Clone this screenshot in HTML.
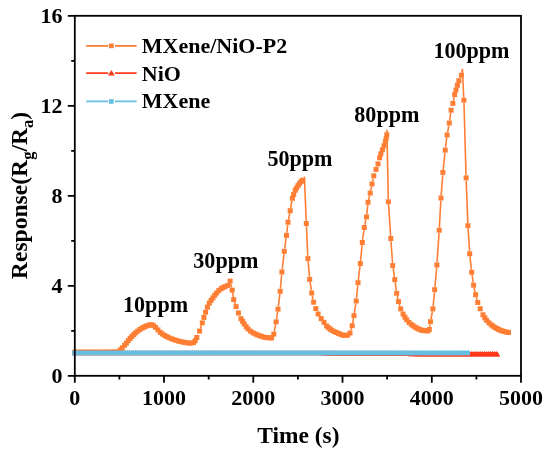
<!DOCTYPE html>
<html><head><meta charset="utf-8"><title>Response</title>
<style>html,body{margin:0;padding:0;background:#fff}svg{display:block}text{font-family:"Liberation Serif","Times New Roman",serif;font-weight:bold;fill:#000}</style></head><body>
<svg width="550" height="454" viewBox="0 0 550 454">
<rect width="550" height="454" fill="#fff"/>
<path d="M200.6 328.0 L201.3 326.0M230.8 284.3 L231.5 287.0M232.7 293.5 L233.2 296.3M234.8 302.7 L235.0 303.5M274.4 330.9 L275.5 325.1M276.6 318.6 L277.5 312.5M278.4 305.9 L279.8 294.6M280.5 288.0 L281.6 275.3M282.3 268.7 L283.9 254.6M284.8 248.0 L286.0 238.7M286.9 232.1 L287.6 225.5M288.6 219.0 L289.6 213.9M290.8 207.5 L291.8 201.5M304.4 177.3 L306.2 220.2M306.5 226.8 L307.7 255.3M308.2 261.9 L309.4 276.0M310.2 282.6 L311.2 289.7M312.4 296.2 L312.9 299.0M351.0 329.8 L351.2 328.9M352.8 322.5 L353.4 318.8M354.5 312.3 L355.7 304.3M356.5 297.7 L357.7 286.0M358.4 279.4 L359.9 266.8M360.6 260.2 L362.0 245.8M362.7 239.2 L363.9 230.8M365.0 224.3 L365.8 220.1M366.8 213.6 L367.7 205.6M368.8 199.1 L369.4 196.3M370.8 189.9 L371.4 187.2M372.7 180.8 L373.1 179.0M386.8 131.5 L386.9 130.4M386.9 130.4 L388.3 198.5M388.6 205.1 L390.6 235.2M391.0 241.8 L392.5 262.3M393.2 268.9 L394.3 276.3M395.3 282.9 L396.2 290.0M397.4 296.5 L397.8 298.4M399.5 304.8 L399.7 305.7M429.8 326.2 L430.0 325.0M431.1 318.5 L432.3 312.1M433.2 305.6 L434.4 293.0M435.0 286.4 L436.6 268.3M437.1 261.7 L439.0 233.5M439.4 226.9 L440.8 201.3M441.2 194.7 L442.7 175.7M443.2 169.1 L444.9 153.4M445.6 146.8 L446.7 138.3M447.7 131.8 L448.7 126.2M449.8 119.7 L450.6 113.5M453.6 100.2 L454.0 97.8M461.9 72.0 L462.4 69.2M462.4 69.2 L463.7 96.9M464.0 103.5 L466.0 174.6M466.2 181.2 L467.8 222.4M468.1 229.0 L469.5 250.5M470.1 257.1 L471.3 269.0M472.2 275.6 L473.1 281.9M474.3 288.4 L474.9 291.5M476.5 297.9 L476.9 299.3" fill="none" stroke="#FF7E34" stroke-width="1.6" stroke-linejoin="round" stroke-linecap="round"/>
<g fill="#FF7E34">
<rect x="72.0" y="349.7" width="5.0" height="5.0"/>
<rect x="74.0" y="349.7" width="5.0" height="5.0"/>
<rect x="76.1" y="349.7" width="5.0" height="5.0"/>
<rect x="78.2" y="349.7" width="5.0" height="5.0"/>
<rect x="80.2" y="349.7" width="5.0" height="5.0"/>
<rect x="82.2" y="349.7" width="5.0" height="5.0"/>
<rect x="84.3" y="349.7" width="5.0" height="5.0"/>
<rect x="86.3" y="349.7" width="5.0" height="5.0"/>
<rect x="88.4" y="349.7" width="5.0" height="5.0"/>
<rect x="90.5" y="349.7" width="5.0" height="5.0"/>
<rect x="92.5" y="349.7" width="5.0" height="5.0"/>
<rect x="94.7" y="349.7" width="5.0" height="5.0"/>
<rect x="96.9" y="349.7" width="5.0" height="5.0"/>
<rect x="99.1" y="349.7" width="5.0" height="5.0"/>
<rect x="101.3" y="349.7" width="5.0" height="5.0"/>
<rect x="103.5" y="349.7" width="5.0" height="5.0"/>
<rect x="105.7" y="349.6" width="5.0" height="5.0"/>
<rect x="107.9" y="349.6" width="5.0" height="5.0"/>
<rect x="110.1" y="349.6" width="5.0" height="5.0"/>
<rect x="112.3" y="349.5" width="5.0" height="5.0"/>
<rect x="114.5" y="349.5" width="5.0" height="5.0"/>
<rect x="117.6" y="347.4" width="5.0" height="5.0"/>
<rect x="119.8" y="345.3" width="5.0" height="5.0"/>
<rect x="122.1" y="342.8" width="5.0" height="5.0"/>
<rect x="123.9" y="340.6" width="5.0" height="5.0"/>
<rect x="125.8" y="338.1" width="5.0" height="5.0"/>
<rect x="127.6" y="335.9" width="5.0" height="5.0"/>
<rect x="129.4" y="333.9" width="5.0" height="5.0"/>
<rect x="131.3" y="332.0" width="5.0" height="5.0"/>
<rect x="133.1" y="330.3" width="5.0" height="5.0"/>
<rect x="135.2" y="328.6" width="5.0" height="5.0"/>
<rect x="137.4" y="327.0" width="5.0" height="5.0"/>
<rect x="139.5" y="325.7" width="5.0" height="5.0"/>
<rect x="141.3" y="324.7" width="5.0" height="5.0"/>
<rect x="143.2" y="323.8" width="5.0" height="5.0"/>
<rect x="145.0" y="323.1" width="5.0" height="5.0"/>
<rect x="147.0" y="322.5" width="5.0" height="5.0"/>
<rect x="149.0" y="322.2" width="5.0" height="5.0"/>
<rect x="151.1" y="323.2" width="5.0" height="5.0"/>
<rect x="153.2" y="325.0" width="5.0" height="5.0"/>
<rect x="155.5" y="327.4" width="5.0" height="5.0"/>
<rect x="157.8" y="329.9" width="5.0" height="5.0"/>
<rect x="159.9" y="331.5" width="5.0" height="5.0"/>
<rect x="162.1" y="332.9" width="5.0" height="5.0"/>
<rect x="164.2" y="334.1" width="5.0" height="5.0"/>
<rect x="166.6" y="335.3" width="5.0" height="5.0"/>
<rect x="169.1" y="336.3" width="5.0" height="5.0"/>
<rect x="171.5" y="337.2" width="5.0" height="5.0"/>
<rect x="173.8" y="337.9" width="5.0" height="5.0"/>
<rect x="176.1" y="338.6" width="5.0" height="5.0"/>
<rect x="178.3" y="339.1" width="5.0" height="5.0"/>
<rect x="180.6" y="339.6" width="5.0" height="5.0"/>
<rect x="183.0" y="340.1" width="5.0" height="5.0"/>
<rect x="185.5" y="340.5" width="5.0" height="5.0"/>
<rect x="187.9" y="340.7" width="5.0" height="5.0"/>
<rect x="191.0" y="340.1" width="5.0" height="5.0"/>
<rect x="192.7" y="338.2" width="5.0" height="5.0"/>
<rect x="194.3" y="335.0" width="5.0" height="5.0"/>
<rect x="197.1" y="328.6" width="5.0" height="5.0"/>
<rect x="199.8" y="320.4" width="5.0" height="5.0"/>
<rect x="201.4" y="314.9" width="5.0" height="5.0"/>
<rect x="203.1" y="309.7" width="5.0" height="5.0"/>
<rect x="204.9" y="304.7" width="5.0" height="5.0"/>
<rect x="206.8" y="300.6" width="5.0" height="5.0"/>
<rect x="208.6" y="297.8" width="5.0" height="5.0"/>
<rect x="210.4" y="295.4" width="5.0" height="5.0"/>
<rect x="212.2" y="292.8" width="5.0" height="5.0"/>
<rect x="214.1" y="290.5" width="5.0" height="5.0"/>
<rect x="216.3" y="288.1" width="5.0" height="5.0"/>
<rect x="218.6" y="286.2" width="5.0" height="5.0"/>
<rect x="220.6" y="285.0" width="5.0" height="5.0"/>
<rect x="222.5" y="284.1" width="5.0" height="5.0"/>
<rect x="225.1" y="283.0" width="5.0" height="5.0"/>
<rect x="227.6" y="278.6" width="5.0" height="5.0"/>
<rect x="229.7" y="287.7" width="5.0" height="5.0"/>
<rect x="231.2" y="297.1" width="5.0" height="5.0"/>
<rect x="233.6" y="304.1" width="5.0" height="5.0"/>
<rect x="235.9" y="310.5" width="5.0" height="5.0"/>
<rect x="238.5" y="316.2" width="5.0" height="5.0"/>
<rect x="240.1" y="318.9" width="5.0" height="5.0"/>
<rect x="241.7" y="321.3" width="5.0" height="5.0"/>
<rect x="243.6" y="324.1" width="5.0" height="5.0"/>
<rect x="245.5" y="326.5" width="5.0" height="5.0"/>
<rect x="248.1" y="328.7" width="5.0" height="5.0"/>
<rect x="250.6" y="330.3" width="5.0" height="5.0"/>
<rect x="252.7" y="331.4" width="5.0" height="5.0"/>
<rect x="254.9" y="332.4" width="5.0" height="5.0"/>
<rect x="257.0" y="333.2" width="5.0" height="5.0"/>
<rect x="259.1" y="333.9" width="5.0" height="5.0"/>
<rect x="261.3" y="334.6" width="5.0" height="5.0"/>
<rect x="263.4" y="335.0" width="5.0" height="5.0"/>
<rect x="265.3" y="335.2" width="5.0" height="5.0"/>
<rect x="267.2" y="335.3" width="5.0" height="5.0"/>
<rect x="269.1" y="335.4" width="5.0" height="5.0"/>
<rect x="271.3" y="331.6" width="5.0" height="5.0"/>
<rect x="273.6" y="319.4" width="5.0" height="5.0"/>
<rect x="275.5" y="306.7" width="5.0" height="5.0"/>
<rect x="277.7" y="288.8" width="5.0" height="5.0"/>
<rect x="279.4" y="269.5" width="5.0" height="5.0"/>
<rect x="281.8" y="248.8" width="5.0" height="5.0"/>
<rect x="284.0" y="232.9" width="5.0" height="5.0"/>
<rect x="285.5" y="219.7" width="5.0" height="5.0"/>
<rect x="287.7" y="208.2" width="5.0" height="5.0"/>
<rect x="289.9" y="195.8" width="5.0" height="5.0"/>
<rect x="291.2" y="191.9" width="5.0" height="5.0"/>
<rect x="292.7" y="187.8" width="5.0" height="5.0"/>
<rect x="294.0" y="185.5" width="5.0" height="5.0"/>
<rect x="295.5" y="183.1" width="5.0" height="5.0"/>
<rect x="297.1" y="180.8" width="5.0" height="5.0"/>
<rect x="298.7" y="178.9" width="5.0" height="5.0"/>
<rect x="300.2" y="177.7" width="5.0" height="5.0"/>
<rect x="303.8" y="221.0" width="5.0" height="5.0"/>
<rect x="305.4" y="256.1" width="5.0" height="5.0"/>
<rect x="307.2" y="276.8" width="5.0" height="5.0"/>
<rect x="309.2" y="290.5" width="5.0" height="5.0"/>
<rect x="311.1" y="299.7" width="5.0" height="5.0"/>
<rect x="313.3" y="306.1" width="5.0" height="5.0"/>
<rect x="315.6" y="311.5" width="5.0" height="5.0"/>
<rect x="318.7" y="316.1" width="5.0" height="5.0"/>
<rect x="321.5" y="319.8" width="5.0" height="5.0"/>
<rect x="324.1" y="323.5" width="5.0" height="5.0"/>
<rect x="325.9" y="325.2" width="5.0" height="5.0"/>
<rect x="327.7" y="326.6" width="5.0" height="5.0"/>
<rect x="329.5" y="327.8" width="5.0" height="5.0"/>
<rect x="331.6" y="329.0" width="5.0" height="5.0"/>
<rect x="333.8" y="330.0" width="5.0" height="5.0"/>
<rect x="335.9" y="330.9" width="5.0" height="5.0"/>
<rect x="338.0" y="331.8" width="5.0" height="5.0"/>
<rect x="340.2" y="332.6" width="5.0" height="5.0"/>
<rect x="342.3" y="332.9" width="5.0" height="5.0"/>
<rect x="345.1" y="332.7" width="5.0" height="5.0"/>
<rect x="347.5" y="330.5" width="5.0" height="5.0"/>
<rect x="349.7" y="323.2" width="5.0" height="5.0"/>
<rect x="351.5" y="313.1" width="5.0" height="5.0"/>
<rect x="353.7" y="298.5" width="5.0" height="5.0"/>
<rect x="355.5" y="280.2" width="5.0" height="5.0"/>
<rect x="357.8" y="261.0" width="5.0" height="5.0"/>
<rect x="359.8" y="240.0" width="5.0" height="5.0"/>
<rect x="361.8" y="225.0" width="5.0" height="5.0"/>
<rect x="364.0" y="214.4" width="5.0" height="5.0"/>
<rect x="365.5" y="199.8" width="5.0" height="5.0"/>
<rect x="367.7" y="190.6" width="5.0" height="5.0"/>
<rect x="369.5" y="181.5" width="5.0" height="5.0"/>
<rect x="371.3" y="173.3" width="5.0" height="5.0"/>
<rect x="373.5" y="166.9" width="5.0" height="5.0"/>
<rect x="375.5" y="161.4" width="5.0" height="5.0"/>
<rect x="377.1" y="155.3" width="5.0" height="5.0"/>
<rect x="378.4" y="151.3" width="5.0" height="5.0"/>
<rect x="379.9" y="147.3" width="5.0" height="5.0"/>
<rect x="381.5" y="143.3" width="5.0" height="5.0"/>
<rect x="382.9" y="139.1" width="5.0" height="5.0"/>
<rect x="383.7" y="135.9" width="5.0" height="5.0"/>
<rect x="384.3" y="132.3" width="5.0" height="5.0"/>
<rect x="385.9" y="199.3" width="5.0" height="5.0"/>
<rect x="388.3" y="236.0" width="5.0" height="5.0"/>
<rect x="390.2" y="263.1" width="5.0" height="5.0"/>
<rect x="392.3" y="277.1" width="5.0" height="5.0"/>
<rect x="394.2" y="290.8" width="5.0" height="5.0"/>
<rect x="396.0" y="299.1" width="5.0" height="5.0"/>
<rect x="398.2" y="306.4" width="5.0" height="5.0"/>
<rect x="400.6" y="311.5" width="5.0" height="5.0"/>
<rect x="402.4" y="314.7" width="5.0" height="5.0"/>
<rect x="404.2" y="317.3" width="5.0" height="5.0"/>
<rect x="406.5" y="319.9" width="5.0" height="5.0"/>
<rect x="408.8" y="321.9" width="5.0" height="5.0"/>
<rect x="410.6" y="323.3" width="5.0" height="5.0"/>
<rect x="412.5" y="324.6" width="5.0" height="5.0"/>
<rect x="414.3" y="325.6" width="5.0" height="5.0"/>
<rect x="416.1" y="326.5" width="5.0" height="5.0"/>
<rect x="418.0" y="327.3" width="5.0" height="5.0"/>
<rect x="419.8" y="327.8" width="5.0" height="5.0"/>
<rect x="421.6" y="328.1" width="5.0" height="5.0"/>
<rect x="423.5" y="328.3" width="5.0" height="5.0"/>
<rect x="425.3" y="328.4" width="5.0" height="5.0"/>
<rect x="426.8" y="327.0" width="5.0" height="5.0"/>
<rect x="428.0" y="319.2" width="5.0" height="5.0"/>
<rect x="430.4" y="306.4" width="5.0" height="5.0"/>
<rect x="432.2" y="287.2" width="5.0" height="5.0"/>
<rect x="434.4" y="262.5" width="5.0" height="5.0"/>
<rect x="436.7" y="227.7" width="5.0" height="5.0"/>
<rect x="438.5" y="195.5" width="5.0" height="5.0"/>
<rect x="440.4" y="169.9" width="5.0" height="5.0"/>
<rect x="442.7" y="147.6" width="5.0" height="5.0"/>
<rect x="444.6" y="132.5" width="5.0" height="5.0"/>
<rect x="446.8" y="120.5" width="5.0" height="5.0"/>
<rect x="448.6" y="107.7" width="5.0" height="5.0"/>
<rect x="450.4" y="100.9" width="5.0" height="5.0"/>
<rect x="452.2" y="92.1" width="5.0" height="5.0"/>
<rect x="453.5" y="87.5" width="5.0" height="5.0"/>
<rect x="454.9" y="82.8" width="5.0" height="5.0"/>
<rect x="456.4" y="78.2" width="5.0" height="5.0"/>
<rect x="458.9" y="72.8" width="5.0" height="5.0"/>
<rect x="461.4" y="97.7" width="5.0" height="5.0"/>
<rect x="463.6" y="175.4" width="5.0" height="5.0"/>
<rect x="465.4" y="223.2" width="5.0" height="5.0"/>
<rect x="467.2" y="251.3" width="5.0" height="5.0"/>
<rect x="469.2" y="269.8" width="5.0" height="5.0"/>
<rect x="471.1" y="282.7" width="5.0" height="5.0"/>
<rect x="473.1" y="292.2" width="5.0" height="5.0"/>
<rect x="475.3" y="300.0" width="5.0" height="5.0"/>
<rect x="477.7" y="306.3" width="5.0" height="5.0"/>
<rect x="480.5" y="312.3" width="5.0" height="5.0"/>
<rect x="482.3" y="315.3" width="5.0" height="5.0"/>
<rect x="484.1" y="317.8" width="5.0" height="5.0"/>
<rect x="486.4" y="320.3" width="5.0" height="5.0"/>
<rect x="488.7" y="322.3" width="5.0" height="5.0"/>
<rect x="490.5" y="323.7" width="5.0" height="5.0"/>
<rect x="492.4" y="324.9" width="5.0" height="5.0"/>
<rect x="494.2" y="326.0" width="5.0" height="5.0"/>
<rect x="496.0" y="326.9" width="5.0" height="5.0"/>
<rect x="497.9" y="327.7" width="5.0" height="5.0"/>
<rect x="499.7" y="328.4" width="5.0" height="5.0"/>
<rect x="501.8" y="329.0" width="5.0" height="5.0"/>
<rect x="503.9" y="329.6" width="5.0" height="5.0"/>
<rect x="506.0" y="330.0" width="5.0" height="5.0"/>
</g>
<g fill="#FF3A1C">
<path d="M71.9 355.2 L74.8 349.9 L77.7 355.2 ZM74.0 355.2 L76.9 349.9 L79.8 355.2 ZM76.1 355.2 L79.0 349.9 L81.9 355.2 ZM78.2 355.2 L81.1 349.9 L84.0 355.2 ZM80.3 355.2 L83.2 349.9 L86.1 355.2 ZM82.4 355.2 L85.3 349.9 L88.2 355.2 ZM84.5 355.2 L87.4 349.9 L90.3 355.2 ZM86.6 355.2 L89.5 349.9 L92.4 355.2 ZM88.7 355.2 L91.6 349.9 L94.5 355.2 ZM90.8 355.2 L93.7 349.9 L96.6 355.2 ZM92.9 355.2 L95.8 349.9 L98.7 355.2 ZM95.0 355.2 L97.9 349.9 L100.8 355.2 ZM97.1 355.2 L100.0 349.9 L102.9 355.2 ZM99.2 355.2 L102.1 349.9 L105.0 355.2 ZM101.3 355.2 L104.2 349.9 L107.1 355.2 ZM103.4 355.2 L106.3 349.9 L109.2 355.2 ZM105.5 355.2 L108.4 349.9 L111.3 355.2 ZM107.6 355.2 L110.5 349.9 L113.4 355.2 ZM109.7 355.2 L112.6 349.9 L115.5 355.2 ZM111.8 355.2 L114.7 349.9 L117.6 355.2 ZM113.9 355.2 L116.8 349.9 L119.7 355.2 ZM116.0 355.2 L118.9 349.9 L121.8 355.2 ZM118.1 355.2 L121.0 349.9 L123.9 355.2 ZM120.2 355.2 L123.1 349.9 L126.0 355.2 ZM122.3 355.2 L125.2 349.9 L128.1 355.2 ZM124.4 355.2 L127.3 349.9 L130.2 355.2 ZM126.5 355.2 L129.4 349.9 L132.3 355.2 ZM128.6 355.2 L131.5 349.9 L134.4 355.2 ZM130.7 355.2 L133.6 349.9 L136.5 355.2 ZM132.8 355.2 L135.7 349.9 L138.6 355.2 ZM134.9 355.2 L137.8 349.9 L140.7 355.2 ZM137.0 355.2 L139.9 349.9 L142.8 355.2 ZM139.1 355.2 L142.0 349.9 L144.9 355.2 ZM141.2 355.2 L144.1 349.9 L147.0 355.2 ZM143.3 355.2 L146.2 349.9 L149.1 355.2 ZM145.4 355.2 L148.3 349.9 L151.2 355.2 ZM147.5 355.2 L150.4 349.9 L153.3 355.2 ZM149.6 355.2 L152.5 349.9 L155.4 355.2 ZM151.7 355.2 L154.6 349.9 L157.5 355.2 ZM153.8 355.2 L156.7 349.9 L159.6 355.2 ZM155.9 355.2 L158.8 349.9 L161.7 355.2 ZM158.0 355.2 L160.9 349.9 L163.8 355.2 ZM160.1 355.2 L163.0 349.9 L165.9 355.2 ZM162.2 355.2 L165.1 349.9 L168.0 355.2 ZM164.3 355.2 L167.2 349.9 L170.1 355.2 ZM166.4 355.2 L169.3 349.9 L172.2 355.2 ZM168.5 355.2 L171.4 349.9 L174.3 355.2 ZM170.6 355.2 L173.5 349.9 L176.4 355.2 ZM172.7 355.2 L175.6 349.9 L178.5 355.2 ZM174.8 355.2 L177.7 349.9 L180.6 355.2 ZM176.9 355.2 L179.8 349.9 L182.7 355.2 ZM179.0 355.2 L181.9 349.9 L184.8 355.2 ZM181.1 355.2 L184.0 349.9 L186.9 355.2 ZM183.2 355.2 L186.1 349.9 L189.0 355.2 ZM185.3 355.2 L188.2 349.9 L191.1 355.2 ZM187.4 355.2 L190.3 349.9 L193.2 355.2 ZM189.5 355.2 L192.4 349.9 L195.3 355.2 ZM191.6 355.2 L194.5 349.9 L197.4 355.2 ZM193.7 355.2 L196.6 349.9 L199.5 355.2 ZM195.8 355.2 L198.7 349.9 L201.6 355.2 ZM197.9 355.2 L200.8 349.9 L203.7 355.2 ZM200.0 355.2 L202.9 349.9 L205.8 355.2 ZM202.1 355.2 L205.0 349.9 L207.9 355.2 ZM204.2 355.2 L207.1 349.9 L210.0 355.2 ZM206.3 355.2 L209.2 349.9 L212.1 355.2 ZM208.4 355.2 L211.3 349.9 L214.2 355.2 ZM210.5 355.2 L213.4 349.9 L216.3 355.2 ZM212.6 355.2 L215.5 349.9 L218.4 355.2 ZM214.7 355.2 L217.6 349.9 L220.5 355.2 ZM216.8 355.2 L219.7 349.9 L222.6 355.2 ZM218.9 355.2 L221.8 349.9 L224.7 355.2 ZM221.0 355.2 L223.9 349.9 L226.8 355.2 ZM223.1 355.2 L226.0 349.9 L228.9 355.2 ZM225.2 355.2 L228.1 349.9 L231.0 355.2 ZM227.3 355.2 L230.2 349.9 L233.1 355.2 ZM229.4 355.2 L232.3 349.9 L235.2 355.2 ZM231.5 355.2 L234.4 349.9 L237.3 355.2 ZM233.6 355.2 L236.5 349.9 L239.4 355.2 ZM235.7 355.2 L238.6 349.9 L241.5 355.2 ZM237.8 355.2 L240.7 349.9 L243.6 355.2 ZM239.9 355.2 L242.8 349.9 L245.7 355.2 ZM242.0 355.2 L244.9 349.9 L247.8 355.2 ZM244.1 355.2 L247.0 349.9 L249.9 355.2 ZM246.2 355.2 L249.1 349.9 L252.0 355.2 ZM248.3 355.2 L251.2 349.9 L254.1 355.2 ZM250.4 355.2 L253.3 349.9 L256.2 355.2 ZM252.5 355.2 L255.4 349.9 L258.3 355.2 ZM254.6 355.2 L257.5 349.9 L260.4 355.2 ZM256.7 355.2 L259.6 349.9 L262.5 355.2 ZM258.8 355.2 L261.7 349.9 L264.6 355.2 ZM260.9 355.2 L263.8 349.9 L266.7 355.2 ZM263.0 355.2 L265.9 349.9 L268.8 355.2 ZM265.1 355.2 L268.0 349.9 L270.9 355.2 ZM267.2 355.2 L270.1 349.9 L273.0 355.2 ZM269.3 355.2 L272.2 349.9 L275.1 355.2 ZM271.4 355.2 L274.3 349.9 L277.2 355.2 ZM273.5 355.2 L276.4 349.9 L279.3 355.2 ZM275.6 355.2 L278.5 349.9 L281.4 355.2 ZM277.7 355.2 L280.6 349.9 L283.5 355.2 ZM279.8 355.2 L282.7 349.9 L285.6 355.2 ZM281.9 355.2 L284.8 349.9 L287.7 355.2 ZM284.0 355.2 L286.9 349.9 L289.8 355.2 ZM286.1 355.2 L289.0 349.9 L291.9 355.2 ZM288.2 355.2 L291.1 349.9 L294.0 355.2 ZM290.3 355.2 L293.2 349.9 L296.1 355.2 ZM292.4 355.2 L295.3 349.9 L298.2 355.2 ZM294.5 355.2 L297.4 349.9 L300.3 355.2 ZM296.6 355.2 L299.5 349.9 L302.4 355.2 ZM298.7 355.2 L301.6 349.9 L304.5 355.2 ZM300.8 355.2 L303.7 349.9 L306.6 355.2 ZM302.9 355.2 L305.8 349.9 L308.7 355.2 ZM305.0 355.2 L307.9 349.9 L310.8 355.2 ZM307.1 355.2 L310.0 349.9 L312.9 355.2 ZM309.2 355.2 L312.1 349.9 L315.0 355.2 ZM311.3 355.2 L314.2 349.9 L317.1 355.2 ZM313.4 355.2 L316.3 349.9 L319.2 355.2 ZM315.5 355.2 L318.4 349.9 L321.3 355.2 ZM317.6 355.2 L320.5 349.9 L323.4 355.2 ZM319.7 355.3 L322.6 350.0 L325.5 355.3 ZM321.8 355.5 L324.7 350.0 L327.6 355.5 ZM323.9 355.6 L326.8 350.0 L329.7 355.6 ZM326.0 355.7 L328.9 350.1 L331.8 355.7 ZM328.1 355.8 L331.0 350.1 L333.9 355.8 ZM330.2 355.9 L333.1 350.2 L336.0 355.9 ZM332.3 356.0 L335.2 350.2 L338.1 356.0 ZM334.4 356.0 L337.3 350.2 L340.2 356.0 ZM336.5 356.0 L339.4 350.2 L342.3 356.0 ZM338.6 356.0 L341.5 350.2 L344.4 356.0 ZM340.7 356.0 L343.6 350.2 L346.5 356.0 ZM342.8 356.0 L345.7 350.2 L348.6 356.0 ZM344.9 356.0 L347.8 350.2 L350.7 356.0 ZM347.0 356.0 L349.9 350.2 L352.8 356.0 ZM349.1 356.0 L352.0 350.2 L354.9 356.0 ZM351.2 356.0 L354.1 350.2 L357.0 356.0 ZM353.3 356.0 L356.2 350.2 L359.1 356.0 ZM355.4 356.0 L358.3 350.2 L361.2 356.0 ZM357.5 356.0 L360.4 350.2 L363.3 356.0 ZM359.6 356.0 L362.5 350.2 L365.4 356.0 ZM361.7 356.0 L364.6 350.2 L367.5 356.0 ZM363.8 356.0 L366.7 350.2 L369.6 356.0 ZM365.9 356.0 L368.8 350.2 L371.7 356.0 ZM368.0 356.0 L370.9 350.2 L373.8 356.0 ZM370.1 356.0 L373.0 350.2 L375.9 356.0 ZM372.2 356.0 L375.1 350.2 L378.0 356.0 ZM374.3 356.0 L377.2 350.2 L380.1 356.0 ZM376.4 356.0 L379.3 350.2 L382.2 356.0 ZM378.5 356.0 L381.4 350.2 L384.3 356.0 ZM380.6 356.0 L383.5 350.2 L386.4 356.0 ZM382.7 356.0 L385.6 350.2 L388.5 356.0 ZM384.8 356.0 L387.7 350.2 L390.6 356.0 ZM386.9 356.0 L389.8 350.2 L392.7 356.0 ZM389.0 356.0 L391.9 350.2 L394.8 356.0 ZM391.1 356.0 L394.0 350.2 L396.9 356.0 ZM393.2 356.0 L396.1 350.2 L399.0 356.0 ZM395.3 356.0 L398.2 350.2 L401.1 356.0 ZM397.4 356.0 L400.3 350.2 L403.2 356.0 ZM399.5 356.0 L402.4 350.2 L405.3 356.0 ZM401.6 356.0 L404.5 350.2 L407.4 356.0 ZM403.7 356.1 L406.6 350.3 L409.5 356.1 ZM405.8 356.1 L408.7 350.3 L411.6 356.1 ZM407.9 356.2 L410.8 350.4 L413.7 356.2 ZM410.0 356.3 L412.9 350.5 L415.8 356.3 ZM412.1 356.3 L415.0 350.5 L417.9 356.3 ZM414.2 356.4 L417.1 350.6 L420.0 356.4 ZM416.3 356.5 L419.2 350.7 L422.1 356.5 ZM418.4 356.5 L421.3 350.7 L424.2 356.5 ZM420.5 356.5 L423.4 350.7 L426.3 356.5 ZM422.6 356.5 L425.5 350.7 L428.4 356.5 ZM424.7 356.5 L427.6 350.7 L430.5 356.5 ZM426.8 356.5 L429.7 350.7 L432.6 356.5 ZM428.9 356.5 L431.8 350.7 L434.7 356.5 ZM431.0 356.5 L433.9 350.7 L436.8 356.5 ZM433.1 356.5 L436.0 350.7 L438.9 356.5 ZM435.2 356.5 L438.1 350.7 L441.0 356.5 ZM437.3 356.5 L440.2 350.7 L443.1 356.5 ZM439.4 356.5 L442.3 350.7 L445.2 356.5 ZM441.5 356.5 L444.4 350.7 L447.3 356.5 ZM443.6 356.5 L446.5 350.7 L449.4 356.5 ZM445.7 356.5 L448.6 350.7 L451.5 356.5 ZM447.8 356.5 L450.7 350.7 L453.6 356.5 ZM449.9 356.5 L452.8 350.7 L455.7 356.5 ZM452.0 356.5 L454.9 350.7 L457.8 356.5 ZM454.1 356.5 L457.0 350.7 L459.9 356.5 ZM456.2 356.5 L459.1 350.7 L462.0 356.5 ZM458.3 356.5 L461.2 350.7 L464.1 356.5 ZM460.4 356.5 L463.3 350.7 L466.2 356.5 ZM462.5 356.5 L465.4 350.7 L468.3 356.5 ZM464.6 356.5 L467.5 350.7 L470.4 356.5 ZM466.7 356.5 L469.6 350.7 L472.5 356.5 ZM468.8 356.5 L471.7 350.7 L474.6 356.5 ZM470.9 356.5 L473.8 350.7 L476.7 356.5 ZM473.0 356.5 L475.9 350.7 L478.8 356.5 ZM475.1 356.5 L478.0 350.7 L480.9 356.5 ZM477.2 356.5 L480.1 350.7 L483.0 356.5 ZM479.3 356.5 L482.2 350.7 L485.1 356.5 ZM481.4 356.5 L484.3 350.7 L487.2 356.5 ZM483.5 356.5 L486.4 350.7 L489.3 356.5 ZM485.6 356.5 L488.5 350.7 L491.4 356.5 ZM487.7 356.5 L490.6 350.7 L493.5 356.5 ZM489.8 356.5 L492.7 350.7 L495.6 356.5 ZM491.9 356.5 L494.8 350.7 L497.7 356.5 ZM494.0 356.5 L496.9 350.7 L499.8 356.5 Z"/>
<path d="M73.6 355.2 L320 355.2 L335 356 L405 356 L420 356.5 L500.2 356.5 L497.8 352 H73.6 Z"/>
</g>
<rect x="72.2" y="350.5" width="397.8" height="4.9" fill="#66BFE0"/>
<g stroke="#000" stroke-width="1.8" fill="none">
<rect x="74.8" y="15.8" width="446.2" height="360.0"/>
<path d="M74.8 375.8 v7.0M119.4 375.8 v3.6M164.0 375.8 v7.0M208.7 375.8 v3.6M253.3 375.8 v7.0M297.9 375.8 v3.6M342.5 375.8 v7.0M387.1 375.8 v3.6M431.8 375.8 v7.0M476.4 375.8 v3.6M521.0 375.8 v7.0M74.8 375.8 h-7.0M74.8 330.8 h-3.6M74.8 285.8 h-7.0M74.8 240.8 h-3.6M74.8 195.8 h-7.0M74.8 150.8 h-3.6M74.8 105.8 h-7.0M74.8 60.8 h-3.6M74.8 15.8 h-7.0"/>
</g>
<g font-size="22" text-anchor="middle">
<text x="74.8" y="404.9">0</text>
<text x="164.0" y="404.9">1000</text>
<text x="253.3" y="404.9">2000</text>
<text x="342.5" y="404.9">3000</text>
<text x="431.8" y="404.9">4000</text>
<text x="521.0" y="404.9">5000</text>
</g>
<g font-size="22" text-anchor="end">
<text x="62.6" y="382.7">0</text>
<text x="62.6" y="292.7">4</text>
<text x="62.6" y="202.7">8</text>
<text x="62.6" y="112.7">12</text>
<text x="62.6" y="22.7">16</text>
</g>
<text x="298.4" y="442.7" font-size="23.4" text-anchor="middle">Time (s)</text>
<text transform="translate(26.7 195.5) rotate(-90)" font-size="23.6" text-anchor="middle">Response(R<tspan font-size="16.5" dy="6.5">g</tspan><tspan dy="-6.5">/R</tspan><tspan font-size="16.5" dy="6.5">a</tspan><tspan dy="-6.5">)</tspan></text>
<path d="M86.2 45.9 H108.2 M115 45.9 H136.6" stroke="#FF7E34" stroke-width="1.8"/>
<rect x="109" y="43.5" width="4.7" height="4.7" fill="#FF7E34"/>
<text x="141.8" y="52.7" font-size="22">MXene/NiO-P2</text>
<path d="M86.2 73.2 H108.2 M115 73.2 H136.6" stroke="#FF3A1C" stroke-width="1.8"/>
<path d="M107.9 75.4 L111.4 70.1 L114.9 75.4 Z" fill="#FF3A1C"/>
<text x="141.8" y="80.8" font-size="22">NiO</text>
<path d="M86.2 101.4 H108.2 M115 101.4 H136.6" stroke="#66BFE0" stroke-width="1.8"/>
<rect x="109" y="99.1" width="4.7" height="4.7" fill="#66BFE0"/>
<text x="141.8" y="108.2" font-size="22">MXene</text>
<text x="123.0" y="311.7" font-size="22.1">10ppm</text>
<text x="193.3" y="268.1" font-size="22.1">30ppm</text>
<text x="267.4" y="166.3" font-size="22.1">50ppm</text>
<text x="354.3" y="122.4" font-size="22.1">80ppm</text>
<text x="433.4" y="57.8" font-size="22.1">100ppm</text>
</svg></body></html>
